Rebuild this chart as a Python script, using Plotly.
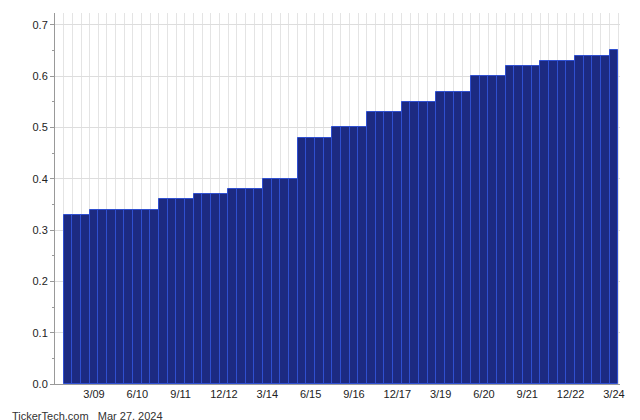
import plotly.graph_objects as go

# quarterly dividend, Q2 2008 .. Q1 2024
years = list(range(2008, 2025))
annual_div = [0.33, 0.34, 0.34, 0.36, 0.37, 0.38, 0.40, 0.48, 0.50, 0.53, 0.55, 0.57, 0.60, 0.62, 0.63, 0.64, 0.65]
first_year_q = [2, 3, 4]  # 2008 has only these quarters
months = {1: 3, 2: 6, 3: 9, 4: 12}

quarters = []
values = []
for y, v in zip(years, annual_div):
    qs = first_year_q if y == 2008 else ([1] if y == 2024 else [1, 2, 3, 4])
    for q in qs:
        quarters.append(f"{months[q]}/{str(y)[2:]}")
        values.append(v)

tick_labels = ["3/09", "6/10", "9/11", "12/12", "3/14", "6/15", "9/16",
               "12/17", "3/19", "6/20", "9/21", "12/22", "3/24"]
xs = list(range(len(quarters)))
tickvals = [quarters.index(t) for t in tick_labels]

fig = go.Figure(go.Bar(
    x=xs, y=values, width=1.0,
    marker=dict(color='#1c2a82', line=dict(color='#2f4fd0', width=1)),
))

fig.update_layout(
    width=640, height=420,
    plot_bgcolor='white', paper_bgcolor='white',
    margin=dict(l=47, r=28, t=5, b=44),
    showlegend=False, bargap=0,
    font=dict(family='Liberation Sans', size=11, color='#222'),
    xaxis=dict(
        range=[-1.5, len(xs) - 0.3], tickvals=tickvals, ticktext=tick_labels,
        showgrid=False, ticks='', zeroline=False,
        showline=True, linecolor='#999',
        minor=dict(dtick=1, tick0=-0.5, showgrid=True, gridcolor='#e4e4e4'),
    ),
    yaxis=dict(
        range=[0, 0.723], dtick=0.1, tickformat='.1f',
        showgrid=True, gridcolor='#dddddd', ticks='outside', ticklen=4,
        tickcolor='#999', showline=True, linecolor='#999', zeroline=False,
        minor=dict(dtick=0.05, ticks='outside', ticklen=2, tickcolor='#999'),
    ),
)

fig.add_annotation(
    x=0, y=0, xref='paper', yref='paper', xanchor='left', yanchor='top',
    xshift=-45, yshift=-24, showarrow=False,
    text='TickerTech.com   Mar 27, 2024',
    font=dict(size=11, color='#333'),
)

fig.write_html("out.html")
